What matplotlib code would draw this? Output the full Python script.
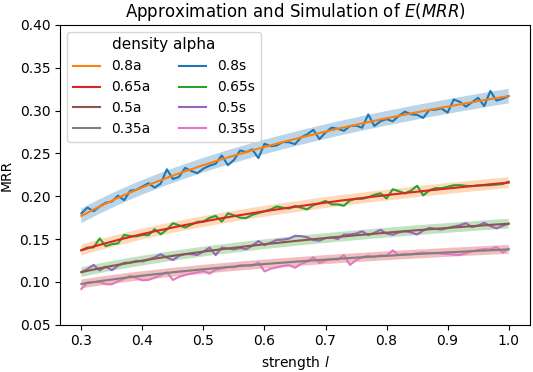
import numpy as np
import matplotlib
matplotlib.use("Agg")
import matplotlib.pyplot as plt

# strength l, 0.30 .. 1.00 in steps of 0.01
strength = np.round(np.arange(30, 101) / 100.0, 2)

alphas = ["0.8", "0.65", "0.5", "0.35"]

approx_08 = [0.1770, 0.1808, 0.1845, 0.1881, 0.1915, 0.1949, 0.1982, 0.2014, 0.2045, 0.2075,
             0.2104, 0.2133, 0.2161, 0.2188, 0.2215, 0.2241, 0.2267, 0.2292, 0.2316, 0.2340,
             0.2364, 0.2387, 0.2410, 0.2432, 0.2453, 0.2475, 0.2496, 0.2516, 0.2537, 0.2556,
             0.2576, 0.2595, 0.2614, 0.2633, 0.2651, 0.2669, 0.2687, 0.2704, 0.2721, 0.2738,
             0.2755, 0.2772, 0.2788, 0.2804, 0.2820, 0.2835, 0.2851, 0.2866, 0.2881, 0.2896,
             0.2911, 0.2925, 0.2939, 0.2953, 0.2967, 0.2981, 0.2995, 0.3008, 0.3021, 0.3035,
             0.3047, 0.3060, 0.3073, 0.3086, 0.3098, 0.3110, 0.3123, 0.3135, 0.3147, 0.3158,
             0.3170]
approx_065 = [0.1370, 0.1392, 0.1413, 0.1433, 0.1452, 0.1471, 0.1490, 0.1508, 0.1525, 0.1542,
              0.1559, 0.1575, 0.1591, 0.1606, 0.1621, 0.1636, 0.1651, 0.1665, 0.1678, 0.1692,
              0.1705, 0.1718, 0.1731, 0.1744, 0.1756, 0.1768, 0.1780, 0.1791, 0.1803, 0.1814,
              0.1825, 0.1836, 0.1846, 0.1857, 0.1867, 0.1877, 0.1887, 0.1897, 0.1907, 0.1917,
              0.1926, 0.1935, 0.1945, 0.1954, 0.1962, 0.1971, 0.1980, 0.1989, 0.1997, 0.2005,
              0.2014, 0.2022, 0.2030, 0.2038, 0.2046, 0.2053, 0.2061, 0.2069, 0.2076, 0.2084,
              0.2091, 0.2098, 0.2105, 0.2112, 0.2119, 0.2126, 0.2133, 0.2140, 0.2147, 0.2153,
              0.2160]
approx_05 = [0.1114, 0.1130, 0.1144, 0.1159, 0.1173, 0.1187, 0.1200, 0.1213, 0.1225, 0.1237,
             0.1249, 0.1261, 0.1272, 0.1283, 0.1294, 0.1305, 0.1315, 0.1325, 0.1335, 0.1345,
             0.1354, 0.1364, 0.1373, 0.1382, 0.1390, 0.1399, 0.1407, 0.1416, 0.1424, 0.1432,
             0.1440, 0.1448, 0.1455, 0.1463, 0.1470, 0.1478, 0.1485, 0.1492, 0.1499, 0.1506,
             0.1512, 0.1519, 0.1526, 0.1532, 0.1538, 0.1545, 0.1551, 0.1557, 0.1563, 0.1569,
             0.1575, 0.1581, 0.1587, 0.1592, 0.1598, 0.1604, 0.1609, 0.1615, 0.1620, 0.1625,
             0.1630, 0.1636, 0.1641, 0.1646, 0.1651, 0.1656, 0.1661, 0.1666, 0.1671, 0.1675,
             0.1680]
approx_035 = [0.0977, 0.0988, 0.0998, 0.1009, 0.1019, 0.1028, 0.1038, 0.1047, 0.1056, 0.1065,
              0.1073, 0.1081, 0.1089, 0.1097, 0.1105, 0.1113, 0.1120, 0.1127, 0.1134, 0.1141,
              0.1148, 0.1154, 0.1161, 0.1167, 0.1174, 0.1180, 0.1186, 0.1192, 0.1198, 0.1203,
              0.1209, 0.1214, 0.1220, 0.1225, 0.1230, 0.1236, 0.1241, 0.1246, 0.1251, 0.1256,
              0.1261, 0.1265, 0.1270, 0.1275, 0.1279, 0.1284, 0.1288, 0.1292, 0.1297, 0.1301,
              0.1305, 0.1309, 0.1314, 0.1318, 0.1322, 0.1326, 0.1329, 0.1333, 0.1337, 0.1341,
              0.1345, 0.1348, 0.1352, 0.1356, 0.1359, 0.1363, 0.1366, 0.1370, 0.1373, 0.1377,
              0.1380]

sim_08 = [0.1800, 0.1868, 0.1825, 0.1881, 0.1925, 0.1939, 0.2007, 0.1954, 0.2065, 0.2075,
          0.2114, 0.2153, 0.2101, 0.2148, 0.2315, 0.2201, 0.2227, 0.2332, 0.2296, 0.2270,
          0.2324, 0.2357, 0.2380, 0.2477, 0.2363, 0.2425, 0.2536, 0.2516, 0.2547, 0.2446,
          0.2613, 0.2585, 0.2594, 0.2633, 0.2631, 0.2609, 0.2687, 0.2724, 0.2776, 0.2668,
          0.2745, 0.2802, 0.2788, 0.2764, 0.2820, 0.2825, 0.2801, 0.2956, 0.2821, 0.2876,
          0.2901, 0.2875, 0.2939, 0.2988, 0.2957, 0.2951, 0.2915, 0.3008, 0.3011, 0.3025,
          0.2977, 0.3130, 0.3103, 0.3046, 0.3098, 0.3150, 0.3053, 0.3230, 0.3117, 0.3138,
          0.3170]
sim_065 = [0.1370, 0.1402, 0.1403, 0.1508, 0.1417, 0.1441, 0.1450, 0.1548, 0.1535, 0.1532,
           0.1549, 0.1545, 0.1616, 0.1556, 0.1611, 0.1686, 0.1661, 0.1635, 0.1668, 0.1702,
           0.1705, 0.1748, 0.1771, 0.1704, 0.1801, 0.1778, 0.1750, 0.1746, 0.1783, 0.1804,
           0.1825, 0.1846, 0.1881, 0.1867, 0.1857, 0.1887, 0.1867, 0.1847, 0.1897, 0.1917,
           0.1946, 0.1905, 0.1905, 0.1889, 0.1952, 0.1971, 0.1970, 0.1989, 0.2017, 0.2035,
           0.1974, 0.2082, 0.2060, 0.2033, 0.2066, 0.2123, 0.2011, 0.2069, 0.2096, 0.2094,
           0.2111, 0.2128, 0.2130, 0.2122, 0.2119, 0.2126, 0.2128, 0.2130, 0.2137, 0.2143,
           0.2170]
sim_05 = [0.1114, 0.1150, 0.1199, 0.1134, 0.1178, 0.1137, 0.1190, 0.1223, 0.1225, 0.1247,
          0.1239, 0.1261, 0.1287, 0.1323, 0.1284, 0.1255, 0.1305, 0.1325, 0.1325, 0.1315,
          0.1354, 0.1401, 0.1313, 0.1402, 0.1390, 0.1379, 0.1397, 0.1381, 0.1424, 0.1477,
          0.1430, 0.1458, 0.1490, 0.1493, 0.1505, 0.1538, 0.1535, 0.1522, 0.1489, 0.1481,
          0.1512, 0.1519, 0.1501, 0.1552, 0.1553, 0.1565, 0.1591, 0.1547, 0.1573, 0.1609,
          0.1565, 0.1551, 0.1577, 0.1592, 0.1578, 0.1554, 0.1599, 0.1632, 0.1620, 0.1611,
          0.1630, 0.1646, 0.1661, 0.1686, 0.1641, 0.1657, 0.1691, 0.1652, 0.1626, 0.1655,
          0.1680]
sim_035 = [0.0917, 0.0995, 0.0998, 0.0999, 0.0973, 0.0973, 0.1008, 0.1037, 0.1073, 0.1045,
           0.1019, 0.1024, 0.1049, 0.1077, 0.1112, 0.1023, 0.1060, 0.1082, 0.1097, 0.1111,
           0.1128, 0.1097, 0.1141, 0.1157, 0.1174, 0.1170, 0.1196, 0.1192, 0.1188, 0.1228,
           0.1123, 0.1154, 0.1170, 0.1185, 0.1196, 0.1166, 0.1211, 0.1236, 0.1287, 0.1221,
           0.1251, 0.1265, 0.1260, 0.1313, 0.1199, 0.1254, 0.1288, 0.1307, 0.1291, 0.1311,
           0.1305, 0.1369, 0.1314, 0.1328, 0.1322, 0.1336, 0.1342, 0.1338, 0.1337, 0.1331,
           0.1325, 0.1318, 0.1315, 0.1336, 0.1359, 0.1373, 0.1383, 0.1380, 0.1408, 0.1343,
           0.1390]

# half width of the shaded band around each approximation
band = [0.0085, 0.0063, 0.0057, 0.0052]

approx = [approx_08, approx_065, approx_05, approx_035]
sims = [sim_08, sim_065, sim_05, sim_035]

fig, ax = plt.subplots(figsize=(5.33, 3.72), dpi=100)
fig.subplots_adjust(left=0.1126, right=0.9944, bottom=0.127, top=0.9328)

a_lines = []
s_lines = []
for name, ap, sm, hw in zip(alphas, approx, sims, band):
    ap = np.array(ap)
    ax.fill_between(strength, ap - hw, ap + hw, alpha=0.3, linewidth=0)
    s, = ax.plot(strength, sm, label=name + "s")
    a, = ax.plot(strength, ap, label=name + "a")
    s_lines.append(s)
    a_lines.append(a)

ax.set_ylim(0.05, 0.40)
ax.set_yticks(np.arange(0.05, 0.401, 0.05))
ax.set_xticks([0.3, 0.4, 0.5, 0.6, 0.7, 0.8, 0.9, 1.0])
ax.set_xlabel("strength $l$")
ax.set_ylabel("MRR")
ax.set_title("Approximation and Simulation of $E(MRR)$")
ax.legend(handles=a_lines + s_lines, ncol=2, loc="upper left",
          title="density alpha", title_fontsize=11)

fig.savefig("out.png", dpi=100)
